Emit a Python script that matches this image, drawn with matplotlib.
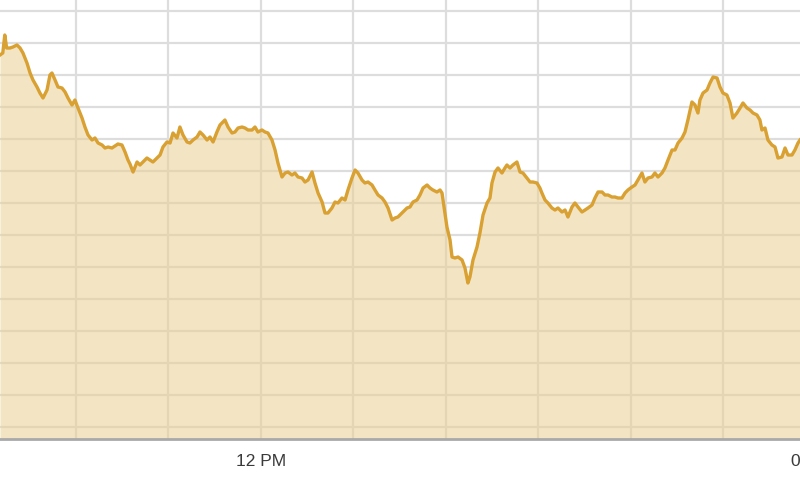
import matplotlib
matplotlib.use("Agg")
import matplotlib.pyplot as plt
import matplotlib.transforms as mtransforms

# time: minutes since 09:00
minutes = [
    10.9, 12.7, 14.0, 15.2, 17.4, 19.3, 21.9, 23.9, 25.8, 28.4, 30.4, 32.3, 34.9, 36.8, 38.8,
    41.4, 43.3, 44.6, 46.6, 48.5, 51.1, 53.1, 55.0, 57.6, 59.5, 61.5, 64.1, 66.0, 68.0, 70.6,
    72.5, 74.5, 77.1, 79.0, 81.0, 83.5, 85.5, 87.4, 90.0, 92.0, 93.9, 95.2,
    97.2, 99.8, 101.7, 103.6, 106.2, 108.2, 110.1, 112.7, 114.7, 116.6, 119.2, 121.2, 123.1,
    125.7, 127.6, 129.6, 132.2, 134.1, 136.1, 138.7, 140.6, 142.6, 145.2, 147.1, 149.1, 151.6,
    153.6, 156.8, 158.8, 161.4, 163.3, 165.3, 167.9, 169.8, 171.8, 174.4, 176.3, 178.2, 180.8,
    182.8, 184.7,
    187.3, 189.3, 191.2, 193.8, 195.8, 197.7, 200.3, 202.2, 204.2, 206.8, 208.7, 210.7, 213.3,
    215.2, 217.2, 219.8, 221.7, 223.6, 226.2, 228.2, 230.1, 232.7, 234.7, 236.6, 239.2, 241.2,
    243.1, 245.7, 247.6, 249.6, 252.2, 254.1, 256.1, 258.7, 260.6, 262.6, 265.2, 267.1, 269.0,
    270.3, 272.3, 274.9, 276.8, 278.8, 281.4, 283.3, 285.3, 287.9, 289.8, 291.7, 294.3, 296.3,
    297.6, 298.9, 300.8, 302.8, 304.1, 306.0, 308.0, 310.6, 312.5, 314.4, 315.7, 317.7, 320.3,
    322.2, 324.2, 326.8, 328.7, 330.0, 332.0, 333.9, 336.5, 338.4, 339.7, 341.7, 343.6, 346.2,
    348.2, 350.1, 352.7, 354.7, 356.6, 359.2, 361.1,
    362.4, 364.4, 366.3, 368.9, 370.9, 372.8, 375.4, 377.4, 379.3, 381.9, 383.8, 385.8, 388.4,
    390.3, 392.3, 394.9, 396.8, 398.8, 401.4, 403.3, 405.3, 407.8, 409.8, 411.7, 414.3, 416.3,
    418.2, 420.8, 422.8, 424.7, 427.3, 429.2, 431.2, 433.8, 435.7, 437.7, 440.3, 442.2,
    444.2, 446.8, 448.7, 450.7, 453.3, 455.2, 457.1, 459.7, 461.7, 463.6, 464.9, 466.9, 469.5,
    471.4, 473.4, 476.0, 477.9, 479.8, 482.4, 484.4, 486.3, 488.9, 490.9, 492.8, 495.4, 497.4,
    499.3, 501.9, 503.8, 505.1, 507.1, 509.0, 511.6, 513.6, 515.5, 518.1, 520.1, 522.0, 524.6,
    526.5, 528.5, 529.8,
]

prices = [
    1293.0, 1293.5, 1298.0, 1294.75, 1294.75, 1295.0, 1295.5, 1294.75, 1293.5, 1291.0, 1288.5,
    1286.75, 1285.0, 1283.5, 1282.25, 1284.25, 1288.0, 1288.5, 1286.75, 1285.0, 1284.75, 1283.75,
    1282.25, 1280.5, 1281.75, 1279.75, 1277.25, 1275.0, 1273.0, 1271.75, 1272.25, 1271.0, 1270.5,
    1269.75, 1270.0, 1269.75, 1270.25, 1270.75, 1270.5, 1268.75, 1266.75, 1265.75,
    1263.75, 1266.25, 1265.5, 1266.25, 1267.25, 1266.75, 1266.25, 1267.25, 1268.0, 1270.0, 1271.25,
    1271.0, 1273.5, 1272.25, 1275.0, 1273.0, 1271.25, 1271.0, 1271.75, 1272.5, 1273.75, 1273.0,
    1271.75, 1272.5, 1271.25, 1273.75, 1275.5, 1276.75, 1275.0, 1273.5, 1273.75, 1274.75, 1275.0,
    1274.75, 1274.25, 1274.25, 1275.0, 1273.75, 1274.25, 1273.75, 1273.5,
    1271.75, 1269.25, 1266.0, 1262.5, 1263.5, 1263.75, 1263.0, 1263.5, 1262.5, 1262.25, 1261.25,
    1261.75, 1263.75, 1261.0, 1258.5, 1256.25, 1253.5, 1253.5, 1254.75, 1256.25, 1256.0, 1257.25,
    1256.75, 1259.25, 1262.25, 1264.25, 1263.5, 1261.75, 1261.0, 1261.25, 1260.5, 1259.25, 1258.0,
    1257.25, 1256.25, 1254.75, 1251.75, 1252.25, 1252.5,
    1253.0, 1253.75, 1254.75, 1255.0, 1256.25, 1256.75, 1258.0, 1259.75, 1260.5, 1259.75, 1259.25,
    1258.75, 1259.25, 1258.5, 1255.0, 1250.0, 1246.75, 1242.5, 1242.25, 1242.5, 1241.75, 1239.75,
    1236.0, 1237.5, 1241.75, 1245.0, 1248.5, 1253.0, 1256.0, 1257.25, 1261.0, 1263.75, 1264.75,
    1263.5, 1264.75, 1265.5, 1264.75, 1265.5, 1266.25, 1263.75, 1263.5, 1262.25, 1261.25, 1261.25,
    1261.0, 1259.75,
    1258.5, 1256.75, 1256.0, 1254.75, 1254.25, 1254.75, 1253.75, 1254.25, 1252.5, 1255.0, 1256.0,
    1255.0, 1253.75, 1254.25, 1254.75, 1255.5, 1257.25, 1258.75, 1258.75, 1258.0, 1258.0, 1257.5,
    1257.5, 1257.25, 1257.25, 1258.5, 1259.25, 1260.0, 1260.5, 1261.75, 1263.5, 1261.25, 1262.25,
    1262.5, 1263.5, 1262.5, 1263.5, 1264.75,
    1266.75, 1269.25, 1269.25, 1271.0, 1272.25, 1273.75, 1276.75, 1281.25, 1280.5, 1278.5, 1281.75,
    1283.5, 1284.25, 1286.0, 1287.5, 1287.25, 1285.0, 1283.5, 1283.0, 1281.0, 1277.25, 1278.5,
    1279.75, 1281.0, 1279.75, 1279.25, 1278.5, 1278.0, 1276.75, 1274.25, 1274.75, 1271.75, 1270.5,
    1270.0, 1267.25, 1267.5, 1269.75, 1268.0, 1268.0, 1269.25, 1271.0, 1271.75,
]

tick_minutes = [180, 540]
tick_labels = ["12 PM", "06 PM"]

x_min, x_max = 10.9, 529.8
y_min, y_max = 1197.0, 1306.75

fig = plt.figure(figsize=(8, 4.8), dpi=100)
ax = fig.add_axes([0, 41 / 480, 1, 439 / 480])
ax.set_xlim(x_min, x_max)
ax.set_ylim(y_min, y_max)

grid_color = "#dddddd"
for gx in range(60, 530, 60):
    ax.axvline(gx, color=grid_color, lw=1.6, zorder=1)
for gy in range(1200, 1305, 8):
    ax.axhline(gy, color=grid_color, lw=1.6, zorder=1)

ax.fill_between(minutes, prices, y_min, color="#ead196", alpha=0.57, lw=0, zorder=2)
ax.plot(minutes, prices, color="#d9a032", lw=2.4, zorder=3, solid_joinstyle="round")

for s in ["top", "left", "right"]:
    ax.spines[s].set_visible(False)
ax.spines["bottom"].set_color("#a9a9a9")
ax.spines["bottom"].set_linewidth(2.0)
ax.set_xticks([])
ax.set_yticks([])

trans = mtransforms.blended_transform_factory(ax.transData, fig.transFigure)
for tm, lab in zip(tick_minutes, tick_labels):
    ax.text(tm, 1 - 461 / 480, lab, transform=trans, ha="center", va="center",
            fontsize=12.5, color="#3a3a3a", family="Liberation Sans", clip_on=False)

fig.savefig("out.png", dpi=100)
